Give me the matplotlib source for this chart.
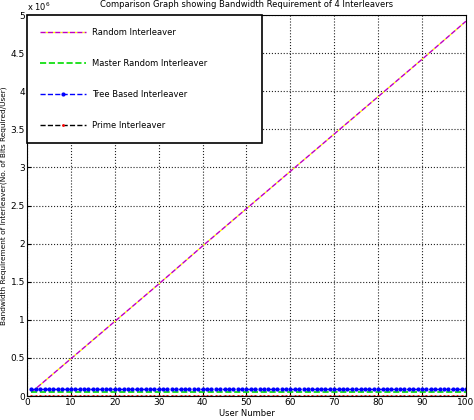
import numpy as np
import matplotlib
matplotlib.use('Agg')
import matplotlib.pyplot as plt

# values in units of 1e6 bits
users = list(range(1, 101))
random_users = [1, 10, 20, 30, 40, 50, 60, 70, 80, 90, 100]
random_bw = [0.049, 0.49, 0.98, 1.47, 1.97, 2.46, 2.95, 3.44, 3.93, 4.42, 4.92]
tree_bw = 0.098
master_bw = 0.049
prime_bw = 0.005

labels = ['Random Interleaver', 'Master Random Interleaver',
          'Tree Based Interleaver', 'Prime Interleaver']
xticks = list(range(0, 101, 10))
yticks = [0, 0.5, 1, 1.5, 2, 2.5, 3, 3.5, 4, 4.5, 5]

fig = plt.figure(figsize=(4.74, 4.2), dpi=100)
ax = fig.add_axes([0.057, 0.057, 0.926, 0.907])

ax.plot(random_users, random_bw, color='m', ls='--', lw=1, gapcolor='yellow',
        label=labels[0])
ax.plot(users, [master_bw] * len(users), color='#00dd00', ls='--', lw=1.2,
        label=labels[1])
ax.plot(users, [tree_bw] * len(users), color='b', ls='--', lw=1, marker='.',
        ms=4, label=labels[2])
ax.plot(users, [prime_bw] * len(users), color='k', ls='--', lw=1, marker='.',
        ms=2, mfc='r', mec='r', label=labels[3])

ax.set_xlim(0, 100)
ax.set_ylim(0, 5)
ax.set_xticks(xticks)
ax.set_yticks(yticks)
ax.set_yticklabels([f'{v:g}' for v in yticks])
ax.tick_params(labelsize=6.5, direction='in', length=3, pad=1.5)
ax.grid(True, color='#222222', ls=':', lw=0.8)
ax.set_xlabel('User Number', fontsize=6, labelpad=1)
ax.set_ylabel('Bandwidth Requirement of Interleaver(No. of Bits Required/User)',
              fontsize=5.3)
ax.yaxis.set_label_coords(-0.045, 0.5)
ax.set_title('Comparison Graph showing Bandwidth Requirement of 4 Interleavers',
             fontsize=6, pad=6)
ax.text(0, 1.005, r'x 10$^6$', transform=ax.transAxes, fontsize=6,
        va='bottom', ha='left')

leg = ax.legend(loc='upper left', bbox_to_anchor=(0, 1, 0.535, 0),
                mode='expand', borderaxespad=0, fontsize=6, fancybox=False,
                edgecolor='k', framealpha=1, handlelength=5.5,
                labelspacing=2.65, borderpad=1.55)
leg.get_frame().set_linewidth(1.2)

fig.savefig('out.png', dpi=100)
